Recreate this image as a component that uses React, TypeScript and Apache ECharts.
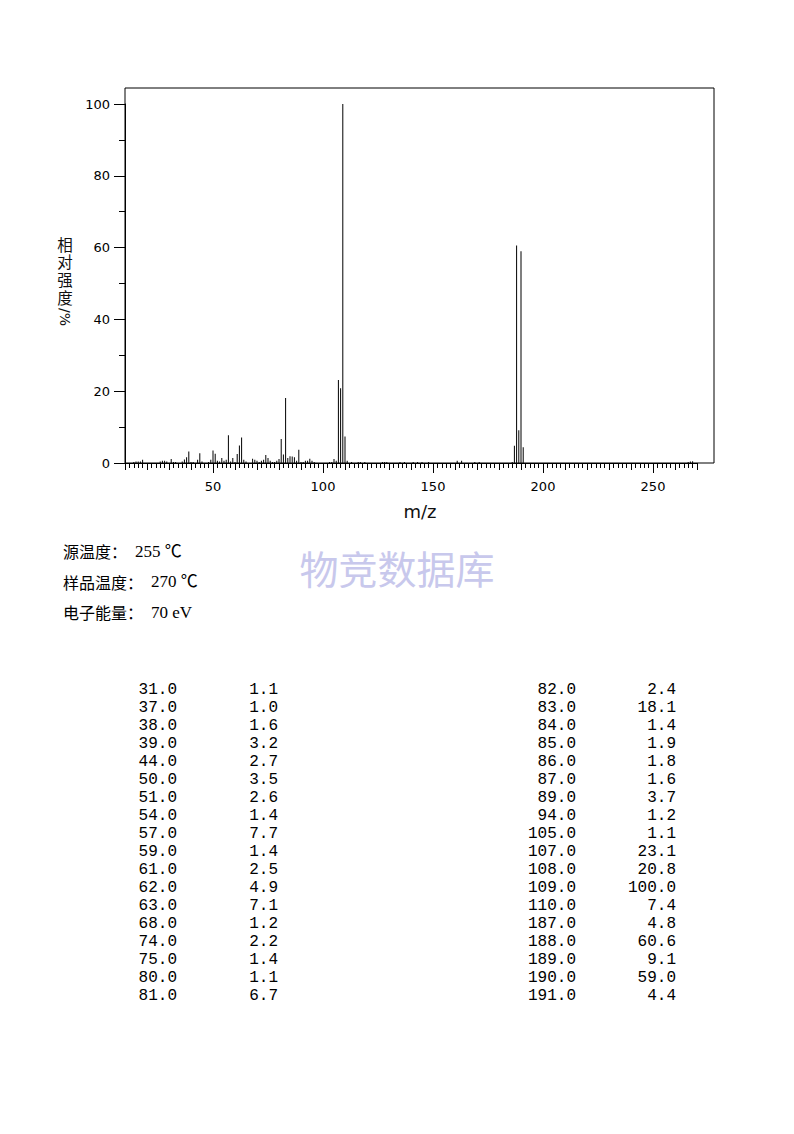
import React, { useEffect, useRef } from "react";
import * as echarts from "echarts";

// ---- spectrum data (m/z, relative intensity %) ----
const peakMz = [
  14, 15, 16, 17, 18, 26, 27, 28, 29, 31, 32, 33, 36, 37, 38, 39, 40, 41, 43, 44, 45, 48, 49,
  50, 51, 52, 53, 54, 55, 56, 57, 58, 59, 60, 61, 62, 63, 64, 65, 68, 69, 70, 71, 72, 73, 74, 75, 76, 77, 78, 79,
  80, 81, 82, 83, 84, 85, 86, 87, 88, 89, 90, 91, 92, 93, 94, 95, 96,
  103, 104, 105, 106, 107, 108, 109, 110, 111, 113, 116, 117, 119,
  127, 128, 129, 135, 137, 141, 143, 145, 148,
  161, 163, 169, 171, 186, 187, 188, 189, 190, 191,
  266, 267, 268,
];
const peakIntensity = [
  0.3, 0.4, 0.4, 0.4, 0.9, 0.4, 0.6, 0.6, 0.4, 1.1, 0.3, 0.3, 0.4, 1.0, 1.6, 3.2, 0.3, 0.3, 0.9, 2.7, 0.4, 0.3, 0.9,
  3.5, 2.6, 0.6, 0.4, 1.4, 0.6, 0.9, 7.7, 0.4, 1.4, 0.3, 2.5, 4.9, 7.1, 0.9, 0.4, 1.2, 0.9, 0.6, 0.3, 0.6, 0.9, 2.2, 1.4, 0.6, 0.3, 0.3, 0.6,
  1.1, 6.7, 2.4, 18.1, 1.4, 1.9, 1.8, 1.6, 0.6, 3.7, 0.3, 0.3, 0.6, 0.6, 1.2, 0.6, 0.3,
  0.3, 0.3, 1.1, 0.6, 23.1, 20.8, 100.0, 7.4, 0.6, 0.3, 0.3, 0.3, 0.3,
  0.3, 0.3, 0.3, 0.3, 0.3, 0.3, 0.3, 0.3, 0.3,
  0.6, 0.6, 0.3, 0.3, 0.3, 4.8, 60.6, 9.1, 59.0, 4.4,
  0.3, 0.4, 0.5,
];

// ---- axis ticks ----
const xMin = 10;
const xMax = 270;
const xLabelTicks = [50, 100, 150, 200, 250];
const yTickLabels = [0, 20, 40, 60, 80, 100];

// ---- texts ----
const infoLabels = ["源温度：", "样品温度：", "电子能量："];
const infoValues = ["255 ℃", "270 ℃", "70 eV"];
const watermark = "物竞数据库";
const yAxisTitleChars = ["相", "对", "强", "度"];
const yAxisUnit = "/%";
const xAxisTitle = "m/z";

// ---- peak table ----
const tableLeftMz = ["31.0", "37.0", "38.0", "39.0", "44.0", "50.0", "51.0", "54.0", "57.0", "59.0", "61.0", "62.0", "63.0", "68.0", "74.0", "75.0", "80.0", "81.0"];
const tableLeftInt = ["1.1", "1.0", "1.6", "3.2", "2.7", "3.5", "2.6", "1.4", "7.7", "1.4", "2.5", "4.9", "7.1", "1.2", "2.2", "1.4", "1.1", "6.7"];
const tableRightMz = ["82.0", "83.0", "84.0", "85.0", "86.0", "87.0", "89.0", "94.0", "105.0", "107.0", "108.0", "109.0", "110.0", "187.0", "188.0", "189.0", "190.0", "191.0"];
const tableRightInt = ["2.4", "18.1", "1.4", "1.9", "1.8", "1.6", "3.7", "1.2", "1.1", "23.1", "20.8", "100.0", "7.4", "4.8", "60.6", "9.1", "59.0", "4.4"];

export default function App() {
  const ref = useRef<HTMLDivElement>(null);

  useEffect(() => {
    document.body.style.margin = "0";
    if (!ref.current) return;
    const chart = echarts.init(ref.current, undefined, { renderer: "svg" });

    const minorTicks: number[] = [];
    for (let v = xMin; v <= xMax; v += 2) minorTicks.push(v);
    const tenTicks: number[] = [];
    for (let v = xMin; v <= xMax; v += 10) tenTicks.push(v);

    const barData = peakMz.map((m, i) => [m, peakIntensity[i]]);

    const axisFont = { fontFamily: "DejaVu Sans", fontSize: 13, color: "#000" };

    const graphics: any[] = [];
    // y axis title (vertical, stacked characters)
    yAxisTitleChars.forEach((ch, i) => {
      graphics.push({
        type: "text",
        x: 65,
        y: 245 + i * 17.7,
        style: {
          text: ch,
          fontFamily: "Liberation Sans, Noto Sans CJK SC",
          fontSize: 15.5,
          fill: "#111",
          textAlign: "center",
          textVerticalAlign: "middle",
        },
      });
    });
    graphics.push({
      type: "text",
      x: 65,
      y: 317,
      rotation: -Math.PI / 2,
      style: {
        text: yAxisUnit,
        fontFamily: "DejaVu Sans",
        fontSize: 14,
        fill: "#111",
        textAlign: "center",
        textVerticalAlign: "middle",
      },
    });
    // x axis title
    graphics.push({
      type: "text",
      x: 420,
      y: 511,
      style: {
        text: xAxisTitle,
        fontFamily: "DejaVu Sans",
        fontSize: 18,
        fill: "#111",
        textAlign: "center",
        textVerticalAlign: "middle",
      },
    });
    // info lines
    infoLabels.forEach((t, i) => {
      const y = 551 + i * 30.5;
      graphics.push({
        type: "text",
        x: 63,
        y,
        style: {
          text: t,
          fontFamily: "Noto Sans CJK SC",
          fontSize: 16,
          fill: "#000",
          textAlign: "left",
          textVerticalAlign: "middle",
        },
      });
      graphics.push({
        type: "text",
        x: 63 + t.length * 16 + 8,
        y,
        style: {
          text: infoValues[i],
          fontFamily: "Liberation Serif, Noto Sans CJK SC",
          fontSize: 17,
          fill: "#000",
          textAlign: "left",
          textVerticalAlign: "middle",
        },
      });
    });
    // watermark
    graphics.push({
      type: "text",
      x: 397,
      y: 567,
      style: {
        text: watermark,
        fontFamily: "Noto Sans CJK SC",
        fontSize: 39,
        fill: "#c8c8ec",
        textAlign: "center",
        textVerticalAlign: "middle",
      },
    });
    // table
    const cols: [string[], number][] = [
      [tableLeftMz, 177],
      [tableLeftInt, 278],
      [tableRightMz, 576],
      [tableRightInt, 676],
    ];
    cols.forEach(([arr, xr]) => {
      arr.forEach((t, i) => {
        graphics.push({
          type: "text",
          x: xr,
          y: 690 + i * 18,
          style: {
            text: t,
            fontFamily: "Liberation Mono",
            fontSize: 16,
            fill: "#000",
            textAlign: "right",
            textVerticalAlign: "middle",
          },
        });
      });
    });

    chart.setOption({
      animation: false,
      backgroundColor: "#fff",
      grid: [
        // frame
        {
          left: 125,
          top: 88,
          width: 589,
          height: 375,
          show: true,
          borderColor: "#000",
          borderWidth: 1,
          backgroundColor: "transparent",
        },
        // data area (10..270, 0..100)
        {
          left: 125,
          top: 104,
          width: 572,
          height: 359,
          show: false,
        },
      ],
      xAxis: [
        {
          type: "value",
          gridIndex: 1,
          position: "bottom",
          min: xMin,
          max: xMax,
          interval: 2,
          axisLine: { show: true, lineStyle: { color: "#000", width: 1 } },
          axisTick: { show: true, length: 5, customValues: minorTicks, lineStyle: { color: "#000" } },
          axisLabel: { show: false },
          splitLine: { show: false },
        },
        {
          type: "value",
          gridIndex: 1,
          position: "bottom",
          min: xMin,
          max: xMax,
          interval: 10,
          axisLine: { show: false },
          axisTick: { show: true, length: 7, customValues: tenTicks, lineStyle: { color: "#000" } },
          axisLabel: { show: false },
          splitLine: { show: false },
        },
        {
          type: "value",
          gridIndex: 1,
          position: "bottom",
          min: xMin,
          max: xMax,
          interval: 10,
          axisLine: { show: false },
          axisTick: { show: true, length: 10, customValues: xLabelTicks, lineStyle: { color: "#000" } },
          axisLabel: { show: true, margin: 17, customValues: xLabelTicks, ...axisFont },
          splitLine: { show: false },
        },
        {
          type: "value",
          gridIndex: 0,
          min: 0,
          max: 1,
          show: false,
        },
      ],
      yAxis: [
        {
          type: "value",
          gridIndex: 1,
          min: 0,
          max: 100,
          interval: 20,
          axisLine: { show: true, lineStyle: { color: "#000", width: 1 } },
          axisTick: { show: true, length: 11, lineStyle: { color: "#000" } },
          minorTick: { show: true, splitNumber: 2, length: 6, lineStyle: { color: "#000" } },
          axisLabel: {
            show: true,
            margin: 15,
            ...axisFont,
            formatter: (v: number) => (yTickLabels.includes(v) ? String(v) : ""),
          },
          splitLine: { show: false },
          minorSplitLine: { show: false },
        },
        {
          type: "value",
          gridIndex: 0,
          min: 0,
          max: 1,
          show: false,
        },
      ],
      series: [
        {
          type: "bar",
          xAxisIndex: 0,
          yAxisIndex: 0,
          data: barData,
          barWidth: 1,
          itemStyle: { color: "#000" },
          silent: true,
        },
      ],
      graphic: graphics,
    });

    return () => chart.dispose();
  }, []);

  return <div ref={ref} style={{ width: 794, height: 1134 }} />;
}
